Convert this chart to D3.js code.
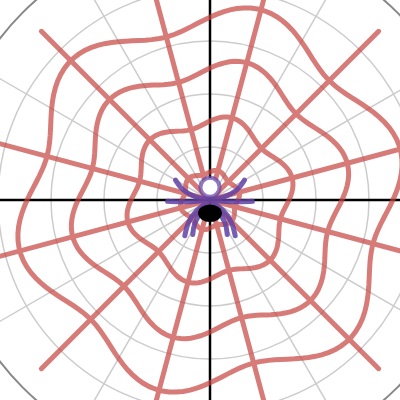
<!DOCTYPE html>
<html>
<head>
<meta charset="utf-8">
<script src="https://cdn.jsdelivr.net/npm/d3@7"></script>
<style>
  body { margin: 0; background: #fff; }
  svg { display: block; }
</style>
</head>
<body>
<svg id="chart" width="400" height="400"></svg>
<script>
// grid rings and rays (in graph units)
const gridRadii = [1, 2, 3, 4, 5, 6, 7, 8, 9];
const gridMajor = [2, 4, 6, 8];
const outerRadius = 10;
const gridAngles = d3.range(0, 360, 30);

// web: spokes (deg, length) and wavy rings (base radius)
const spokeAngles = [15, 45, 75, 105, 135, 165, 195, 225, 255, 285, 315, 345];
const spokeLengths = [12, 9, 12, 12, 9, 12, 12, 9, 12, 12, 9, 12];
const ringRadii = [1.06, 2.98, 4.98, 6.9];
const waveCount = 6;
const waveAmp = 0.077;

// spider legs (left side, mirrored for right)
const legs = [
    [[-1.3, 0.75], [-1.05, 0.35], [-0.5, 0.08], [0, 0]],
    [[-1.6, -0.05], [-1.0, -0.08], [-0.4, -0.05], [0, 0]],
    [[-0.95, -1.35], [-0.85, -0.85], [-0.5, -0.35], [-0.1, -0.1]],
    [[-0.65, -1.3], [-0.6, -0.85], [-0.35, -0.45], [-0.05, -0.15]]
];
const bodyCenter = [0, -0.5];
const headCenter = [0, 0.48];

const svg = d3.select("#chart");
const unit = 26.5;
const x = d3.scaleLinear().domain([-210 / unit, 190 / unit]).range([0, 400]);
const y = d3.scaleLinear().domain([-200 / unit, 200 / unit]).range([400, 0]);
const rpx = r => r * unit;

const rad = d => d * Math.PI / 180;

// polar grid
svg.selectAll("circle.minor")
    .data(gridMajor)
    .enter().append("circle")
    .attr("cx", x(0)).attr("cy", y(0))
    .attr("r", d => rpx(d))
    .attr("fill", "none").attr("stroke", "#ccc").attr("stroke-width", 1.5);

svg.selectAll("line.ray")
    .data(gridAngles)
    .enter().append("line")
    .attr("x1", x(0)).attr("y1", y(0))
    .attr("x2", d => x(outerRadius * Math.cos(rad(d))))
    .attr("y2", d => y(outerRadius * Math.sin(rad(d))))
    .attr("stroke", "#ccc").attr("stroke-width", 1.5);

svg.append("circle")
    .attr("cx", x(0)).attr("cy", y(0)).attr("r", rpx(outerRadius))
    .attr("fill", "none").attr("stroke", "#888").attr("stroke-width", 2);

// axes
svg.append("line").attr("x1", 0).attr("x2", 400).attr("y1", y(0)).attr("y2", y(0))
    .attr("stroke", "#000").attr("stroke-width", 2.5);
svg.append("line").attr("x1", x(0)).attr("x2", x(0)).attr("y1", 0).attr("y2", 400)
    .attr("stroke", "#000").attr("stroke-width", 2.5);

const red = "#c74440";
const web = svg.append("g").attr("opacity", 0.7);

// spokes
web.selectAll("line")
    .data(spokeAngles)
    .enter().append("line")
    .attr("x1", x(0)).attr("y1", y(0))
    .attr("x2", (d, i) => x(spokeLengths[i] * Math.cos(rad(d))))
    .attr("y2", (d, i) => y(spokeLengths[i] * Math.sin(rad(d))))
    .attr("stroke", red).attr("stroke-width", 5).attr("stroke-linecap", "round");

// wavy rings
const ringLine = d3.lineRadial()
    .angle(t => Math.PI / 2 - t[0])
    .radius(t => rpx(t[1]))
    .curve(d3.curveLinearClosed);
const thetas = d3.range(0, 360, 2).map(rad);
web.selectAll("path.ring")
    .data(ringRadii)
    .enter().append("path")
    .attr("transform", `translate(${x(0)},${y(0)})`)
    .attr("d", R => ringLine(thetas.map(t => [t, R * (1 + waveAmp * Math.sin(waveCount * t))])))
    .attr("fill", "none").attr("stroke", red).attr("stroke-width", 5);

// spider
const purple = "#6042a6";
const legLine = d3.line().x(p => x(p[0])).y(p => y(p[1])).curve(d3.curveBasis);
const allLegs = legs.concat(legs.map(l => l.map(p => [-p[0], p[1]])));
svg.append("g").attr("opacity", 0.85)
    .selectAll("path")
    .data(allLegs)
    .enter().append("path")
    .attr("d", legLine)
    .attr("fill", "none").attr("stroke", purple).attr("stroke-width", 5).attr("stroke-linecap", "round");

svg.append("circle")
    .attr("cx", x(headCenter[0])).attr("cy", y(headCenter[1])).attr("r", rpx(0.36))
    .attr("fill", "#fff").attr("stroke", purple).attr("stroke-opacity", 0.7).attr("stroke-width", 4);

svg.append("ellipse")
    .attr("cx", x(bodyCenter[0])).attr("cy", y(bodyCenter[1]))
    .attr("rx", rpx(0.45)).attr("ry", rpx(0.33))
    .attr("fill", "#000");
</script>
</body>
</html>
